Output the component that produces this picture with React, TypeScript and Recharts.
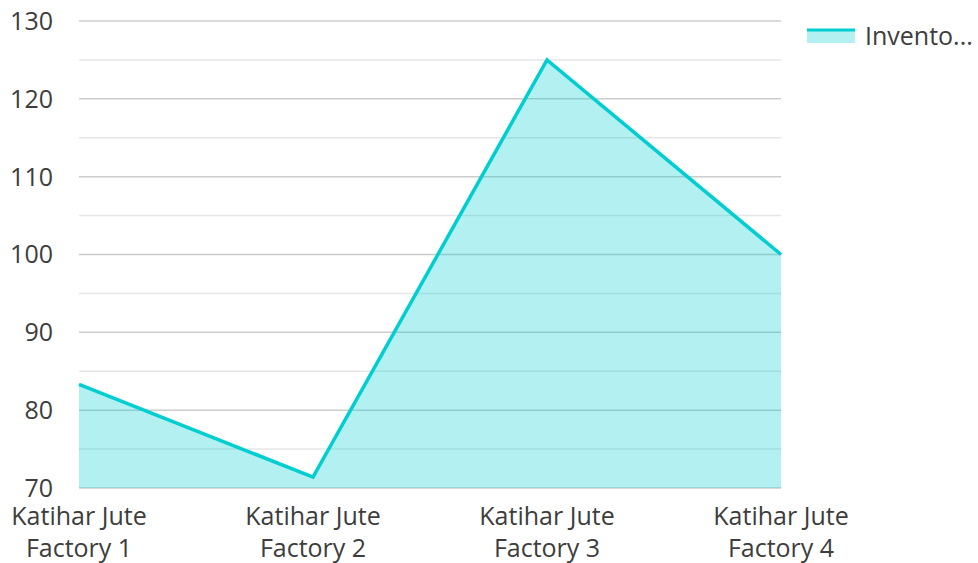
import React from "react";
import { Area, AreaChart, CartesianGrid, Legend, XAxis, YAxis } from "recharts";

const factories = ["Katihar Jute Factory 1", "Katihar Jute Factory 2", "Katihar Jute Factory 3", "Katihar Jute Factory 4"];
const inventory = [83.3, 71.4, 125, 100];
const yTicks = [70, 80, 90, 100, 110, 120, 130];
const minorTicks = [75, 85, 95, 105, 115, 125];

const data = factories.map((name, i) => ({ name, inventory: inventory[i] }));

const FONT = "'Open Sans', 'Noto Sans', sans-serif";
const TEXT = "#3d3d3d";
const TEAL = "#00CED1";

function FactoryTick({ x, y, payload }: any) {
  const words = String(payload.value).split(" ");
  const first = words.slice(0, 2).join(" ");
  const second = words.slice(2).join(" ");
  return (
    <text x={x} y={y} textAnchor="middle" fill={TEXT} fontSize={25} fontFamily={FONT}>
      <tspan x={x} dy={29}>{first}</tspan>
      <tspan x={x} dy={32}>{second}</tspan>
    </text>
  );
}

function LegendBox({ payload }: any) {
  return (
    <div style={{ paddingLeft: 26 }}>
      {(payload || []).map((entry: any) => {
        const label = String(entry.value);
        const short = label.length > 7 ? label.slice(0, 7) + "..." : label;
        return (
          <div key={label} style={{ display: "flex", alignItems: "center", fontFamily: FONT, fontSize: 25, color: TEXT, lineHeight: "28px" }}>
            <svg width={48} height={16} style={{ marginRight: 10 }}>
              <rect x={0} y={2} width={48} height={14} fill={TEAL} fillOpacity={0.3} />
              <line x1={0} y1={3} x2={48} y2={3} stroke={TEAL} strokeWidth={3} />
            </svg>
            <span>{short}</span>
          </div>
        );
      })}
    </div>
  );
}

export default function App() {
  return (
    <div style={{ position: "absolute", left: 0, top: 0, width: 978, height: 563, background: "#fff" }}>
      <AreaChart width={978} height={563} data={data} margin={{ top: 21, right: 2, bottom: 0, left: 0 }}>
        <CartesianGrid vertical={false} horizontalValues={minorTicks} stroke="#e6e6e6" strokeWidth={1.5} />
        <CartesianGrid vertical={false} stroke="#cccccc" strokeWidth={1.5} />
        <XAxis
          dataKey="name"
          axisLine={false}
          tickLine={false}
          height={75}
          interval={0}
          tick={<FactoryTick />}
        />
        <YAxis
          domain={[70, 130]}
          ticks={yTicks}
          axisLine={false}
          tickLine={false}
          tickSize={0}
          tickMargin={26}
          width={79}
          tick={{ fill: TEXT, fontSize: 25, fontFamily: FONT }}
        />
        <Legend layout="vertical" align="right" verticalAlign="top" width={195} content={<LegendBox />} />
        <Area
          type="linear"
          dataKey="inventory"
          name="Inventory"
          stroke={TEAL}
          strokeWidth={3.5}
          fill={TEAL}
          fillOpacity={0.3}
          dot={false}
          activeDot={false}
          isAnimationActive={false}
        />
      </AreaChart>
    </div>
  );
}
